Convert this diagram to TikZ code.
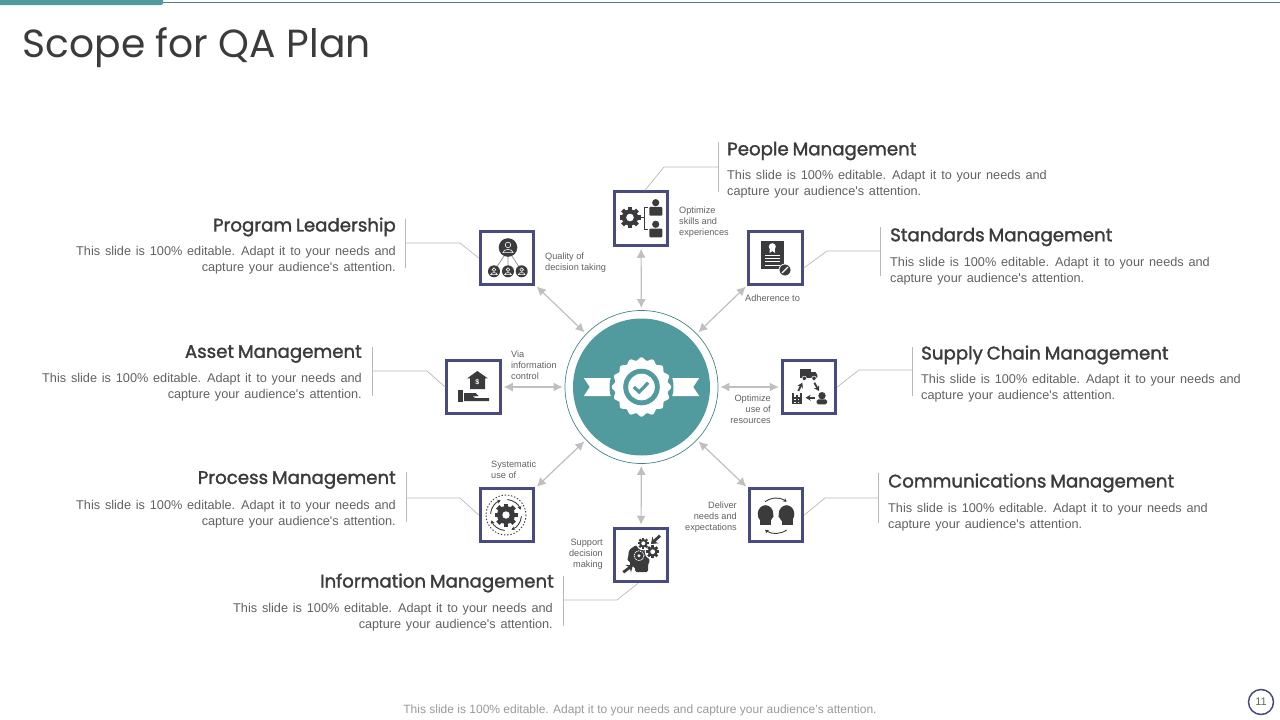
\documentclass[tikz,border=0pt]{standalone}
\usepackage{fontspec}
\setmainfont{Liberation Sans}
\newfontfamily\gothicfont{Poppins}
\newfontfamily\headfont{Poppins}[FakeBold=1.6,WordSpace=0.8]
\newfontfamily\bodyfont{Liberation Sans}[WordSpace=1.36]
\usetikzlibrary{arrows.meta}
\definecolor{tealx}{HTML}{519A9E}
\definecolor{navx}{HTML}{484A82}
\definecolor{inkx}{HTML}{3B3B3D}
\definecolor{grx}{HTML}{BFBFBF}
\tikzset{
    iconbox/.style={draw=navx,line width=3pt,fill=white,minimum size=53.5pt,inner sep=0pt},
    link/.style={grx,line width=1.2pt,{Latex[length=9pt,width=9pt]}-{Latex[length=9pt,width=9pt]},shorten >=2pt,shorten <=2pt},
    leader/.style={black!28,line width=.7pt},
    headtxt/.style={inner sep=0pt,font=\headfont\fontsize{18.2}{22}\selectfont,text=inkx},
    bodytxt/.style={inner sep=0pt,align=left,font=\bodyfont\fontsize{12.7}{16}\selectfont,text=black!62},
    bodytxr/.style={bodytxt,align=right},
    smalltxt/.style={inner sep=0pt,font=\fontsize{9.2}{11}\selectfont,text=black!62},
    arrowk/.style={inkx,line width=1.8pt,-{Stealth[length=5pt,width=6pt]}},
    bigarrow/.style={inkx,line width=2.8pt,-{Stealth[length=6pt,width=9pt]}},
    thinarc/.style={inkx,line width=.9pt,-{Stealth[length=3.5pt,width=4pt]}}
}
\newcommand{\bodytext}{This slide is 100\% editable. Adapt it to your needs and\\capture your audience's attention.}
% gear: x, y, radius, hole radius
\newcommand{\gearmark}[4]{
    \begin{scope}[shift={(#1,#2)}]
        \fill [inkx] (0,0) circle ({0.78*#3});
        \foreach \a in {0,45,...,315} {
            \fill [inkx,rotate=\a] ({0.6*#3},{-0.2*#3}) rectangle ({#3},{0.2*#3});
        }
        \fill [white] (0,0) circle (#4);
    \end{scope}
}
% white person in a dark disc: x, y, radius
\newcommand{\personmark}[3]{
    \fill [inkx] (#1,#2) circle (#3);
    \begin{scope}[shift={(#1,#2)},white,line width=.6pt]
        \draw (0,{-0.28*#3}) circle ({0.3*#3});
        \draw ({-0.55*#3},{0.55*#3}) .. controls ({-0.5*#3},{0.1*#3}) and ({0.5*#3},{0.1*#3}) .. ({0.55*#3},{0.55*#3}) -- cycle;
    \end{scope}
}
\begin{document}
\begin{tikzpicture}[x=1pt,y=-1pt]
    \useasboundingbox (0,0) rectangle (1280,720);
    % top band and title
    \draw [tealx!85!black,line width=1pt] (150,2) -- (1280,2);
    \fill [tealx,rounded corners=2pt] (-5,-5) rectangle (163,5);
    \node (title) [anchor=west,inner sep=0pt,text=inkx,font=\gothicfont\fontsize{39.2}{44}\selectfont] at (22.5,48) {Scope for QA Plan};
    % hub
    \node (hub) [circle,draw=tealx!85!black,line width=.7pt,minimum size=153pt,inner sep=0pt] at (641.5,387) {};
    \fill [tealx] (hub) circle (68.5);
    \begin{scope}[shift={(hub)}]
        \fill [white] (-57.7,-9) -- (-28,-9) -- (-28,9) -- (-57.7,9) -- (-51.7,0) -- cycle;
        \fill [white] (57.7,-9) -- (28,-9) -- (28,9) -- (57.7,9) -- (51.7,0) -- cycle;
        \fill [tealx] (0,0) circle (32);
        \fill [white] plot [domain=0:360,samples=129,smooth] ({(28.2+1.5*cos(16*\x))*cos(\x)},{(28.2+1.5*cos(16*\x))*sin(\x)}) -- cycle;
        \fill [tealx] (0,0) circle (18.3);
        \fill [white] (0,0) circle (13.3);
        \draw [tealx,line width=3.2pt] (-7.7,0) -- (-2.3,5) -- (6.7,-4.3);
    \end{scope}
    % boxes
    \node (people) [iconbox] at (641,218.5) {};
    \node (program) [iconbox] at (507,258) {};
    \node (standards) [iconbox] at (775.5,258) {};
    \node (asset) [iconbox] at (473.5,387) {};
    \node (supply) [iconbox] at (809,387) {};
    \node (process) [iconbox] at (507,515) {};
    \node (comms) [iconbox] at (776,515) {};
    \node (info) [iconbox] at (641,555) {};
    % arrows
    \foreach \n in {people,program,standards,process,comms,asset,supply,info} {
        \draw [link] (hub) -- (\n);
    }
    % people icon
    \begin{scope}[shift={(people)}]
        \gearmark{-11}{-1}{10.5}{3.8}
        \draw [inkx,line width=.9pt] (-1,-1) -- (3,-1);
        \draw [inkx,line width=.9pt] (7,-11.5) -- (3,-11.5) -- (3,10.5) -- (7,10.5);
        \foreach \y in {-15.8,5.8} {
            \fill [inkx] (14.7,\y) circle (3.6);
            \fill [inkx,rounded corners=1pt] (8.3,\y+4.2) rectangle (21.3,\y+13);
        }
    \end{scope}
    % program icon
    \begin{scope}[shift={(program)}]
        \draw [black!45,line width=.7pt] (1,-8) -- (-13,13) (1,-8) -- (1,13) (1,-8) -- (14.7,13);
        \personmark{1}{-10.5}{9.3}
        \personmark{-13}{13.3}{6}
        \personmark{1}{13.3}{6}
        \personmark{14.7}{13.3}{6}
    \end{scope}
    % standards icon
    \begin{scope}[shift={(standards)}]
        \fill [inkx] (-14.5,-17) rectangle (8.5,11.3);
        \fill [white] (-3.2,-11.3) circle (3.5);
        \fill [white] (-5.5,-11) -- (-6,-5) -- (-3.2,-7) -- (-0.4,-5) -- (-0.9,-11) -- cycle;
        \foreach \y in {-3,0.3,3.7,7} {
            \draw [white,line width=.8pt] (-10.5,\y) -- (4.5,\y);
        }
        \fill [inkx,draw=white,line width=.8pt] (9.5,12) circle (6);
        \draw [white,line width=1.2pt] (6.5,15) -- (12.5,9);
    \end{scope}
    % asset icon
    \begin{scope}[shift={(asset)}]
        \fill [inkx] (3.8,-16) -- (14.2,-8.7) -- (11.5,-8.7) -- (11.5,2) -- (-3.5,2) -- (-3.5,-8.7) -- (-6.2,-8.7) -- cycle;
        \node (dollar) [inner sep=0pt,text=white,font=\bfseries\fontsize{7}{7}\selectfont] at (3.8,-4.7) {\$};
        \fill [inkx] (-15.2,3) rectangle (-10.8,14.7);
        \fill [inkx] (-9.5,6) -- (2,6) -- (5,9) -- (-1,9.5) -- (2,11) -- (15.5,11) -- (15.5,14) -- (-9.5,14) -- cycle;
    \end{scope}
    % supply icon
    \begin{scope}[shift={(supply)}]
        \fill [inkx] (-8.7,-17.7) rectangle (2.4,-9.3);
        \fill [inkx] (2,-15) -- (6.5,-15) -- (8.3,-12) -- (8.3,-9.3) -- (2,-9.3) -- cycle;
        \fill [inkx,draw=white,line width=.5pt] (-4.7,-8.7) circle (2.2) (5,-8.7) circle (2.2);
        \draw [arrowk] (-10.7,4) -- (-6.7,-4.3);
        \draw [arrowk] (5.3,-4.3) -- (10,4);
        \draw [arrowk] (6,10.7) -- (-3.3,10.7);
        \fill [inkx] (-17.3,6.3) rectangle (-15,17.3);
        \fill [inkx] (-13,8) rectangle (-11,17.3);
        \fill [inkx] (-9.5,6.3) rectangle (-7.3,17.3);
        \fill [inkx] (-17.3,10) rectangle (-7.3,17.3);
        \foreach \x in {-14.8,-11.2} {
            \foreach \y in {12,15} {
                \fill [white] (\x,\y) rectangle (\x+1.6,\y+1.4);
            }
        }
        \fill [inkx] (13,8.7) circle (3.7);
        \fill [inkx,rounded corners=1.5pt] (7.7,12.4) rectangle (18,17.3);
    \end{scope}
    % process icon
    \begin{scope}[shift={(process)}]
        \draw [inkx,line width=.9pt,dash pattern=on 1.4pt off 1.8pt] (-1,0) circle (20);
        \gearmark{-1}{0}{11.5}{3.7}
        \begin{scope}[shift={(-1,0)}]
            \foreach \a in {5,95,185,275} {
                \draw [thinarc] (\a:15.5) arc [start angle=\a,end angle=\a+65,radius=15.5];
            }
        \end{scope}
    \end{scope}
    % comms icon
    \begin{scope}[shift={(comms)}]
        \foreach \s in {-1,1} {
            \begin{scope}[xscale=\s]
                \fill [inkx] (10.5,-1) ellipse (7.8 and 8.8);
                \fill [inkx] (5.5,3) rectangle (16.5,10);
                \fill [inkx] (3.6,-2.5) -- (2.4,1.5) -- (6,4) -- cycle;
            \end{scope}
        }
        \draw [thinarc] (-11,-13.3) .. controls (-4,-18) and (4,-18) .. (10.7,-13.3);
        \draw [thinarc] (10.7,15) .. controls (4,19.5) and (-4,19.5) .. (-11,15);
    \end{scope}
    % info icon
    \begin{scope}[shift={(info)}]
        \fill [inkx,rounded corners=1.5pt] (-13,3) -- (-12,-5) -- (-5,-10) -- (5,-5) -- (9,5) -- (7,10) -- (7,17) -- (-6,17) -- (-6,12) -- (-11,11) -- (-11,6) -- (-14,6) -- cycle;
        \fill [white] (2.3,-11.7) circle (7);
        \fill [white] (11.7,-3.3) circle (8);
        \gearmark{2.3}{-11.7}{5.5}{2}
        \gearmark{11.7}{-3.3}{6.5}{2.4}
        \draw [white,line width=.8pt,dash pattern=on 1.2pt off .8pt] (-2,0.7) circle (5);
        \fill [white] (-2,0.7) circle (1.6);
        \draw [bigarrow] (19,-19.3) -- (10,-11);
        \draw [bigarrow] (-17.7,17.3) -- (-8,10);
    \end{scope}
    % leaders
    \coordinate (p1) at (664,167); \coordinate (p2) at (718,167);
    \coordinate (a1) at (460,243); \coordinate (a2) at (405.5,243);
    \coordinate (s1) at (827,251); \coordinate (s2) at (880,251);
    \coordinate (m1) at (427,371); \coordinate (m2) at (372.5,371);
    \coordinate (c1) at (859,370); \coordinate (c2) at (912,370);
    \coordinate (r1) at (460,498); \coordinate (r2) at (406,498);
    \coordinate (o1) at (825,498); \coordinate (o2) at (878,498);
    \coordinate (i1) at (617,600); \coordinate (i2) at (563,600);
    \draw [leader] ([xshift=4pt]people.north) -- (p1) -- (p2);
    \draw [leader] (program.west) -- (a1) -- (a2);
    \draw [leader] ([yshift=-10pt]standards.east) -- (s1) -- (s2);
    \draw [leader] (asset.west) -- (m1) -- (m2);
    \draw [leader] (supply.east) -- (c1) -- (c2);
    \draw [leader] (process.west) -- (r1) -- (r2);
    \draw [leader] (comms.east) -- (o1) -- (o2);
    \draw [leader] ([xshift=-3pt]info.south) -- (i1) -- (i2);
    \draw [leader] (718,142) -- (718,192);
    \draw [leader] (405.5,219) -- (405.5,268);
    \draw [leader] (880,227) -- (880,276);
    \draw [leader] (372.5,347) -- (372.5,396);
    \draw [leader] (912,347) -- (912,396);
    \draw [leader] (406,472) -- (406,522);
    \draw [leader] (878,473) -- (878,523);
    \draw [leader] (563,576) -- (563,626);
    % headings and text
    \node (h1) [headtxt,anchor=west] at (727,151) {People Management};
    \node (t1) [bodytxt,anchor=north west] at (727,170) {\bodytext};
    \node (h2) [headtxt,anchor=east] at (396,227) {Program Leadership};
    \node (t2) [bodytxr,anchor=north east] at (396,246) {\bodytext};
    \node (h3) [headtxt,anchor=west] at (890,237) {Standards Management};
    \node (t3) [bodytxt,anchor=north west] at (890,257) {\bodytext};
    \node (h4) [headtxt,anchor=east] at (362,354) {Asset Management};
    \node (t4) [bodytxr,anchor=north east] at (362,373) {\bodytext};
    \node (h5) [headtxt,anchor=west] at (921,355) {Supply Chain Management};
    \node (t5) [bodytxt,anchor=north west] at (921,374) {\bodytext};
    \node (h6) [headtxt,anchor=east] at (396,480) {Process Management};
    \node (t6) [bodytxr,anchor=north east] at (396,500) {\bodytext};
    \node (h7) [headtxt,anchor=west] at (888,483) {Communications Management};
    \node (t7) [bodytxt,anchor=north west] at (888,503) {\bodytext};
    \node (h8) [headtxt,anchor=east] at (554,583) {Information Management};
    \node (t8) [bodytxr,anchor=north east] at (553,603) {\bodytext};
    % small labels
    \node (l1) [smalltxt,align=left,anchor=north west] at (679,207) {Optimize\\skills and\\experiences};
    \node (l2) [smalltxt,align=left,anchor=north west] at (545,253) {Quality of\\decision taking};
    \node (l3) [smalltxt,anchor=north west] at (745,294.5) {Adherence to};
    \node (l4) [smalltxt,align=left,anchor=north west] at (511,351) {Via\\information\\control};
    \node (l5) [smalltxt,align=right,anchor=north east] at (771,394.5) {Optimize\\use of\\resources};
    \node (l6) [smalltxt,align=left,anchor=north west] at (491,460.5) {Systematic\\use of};
    \node (l7) [smalltxt,align=right,anchor=north east] at (737,501.5) {Deliver\\needs and\\expectations};
    \node (l8) [smalltxt,align=right,anchor=north east] at (603,538.5) {Support\\decision\\making};
    % footer
    \node (foot) [inner sep=0pt,text=black!40,font=\fontsize{12}{14}\selectfont] at (640,710.5) {This slide is 100\% editable. Adapt it to your needs and capture your audience's attention.};
    \node (page) [circle,draw=navx,line width=1.5pt,minimum size=25pt,inner sep=0pt,text=black!60,font=\fontsize{11}{12}\selectfont] at (1261,702) {11};
\end{tikzpicture}
\end{document}
